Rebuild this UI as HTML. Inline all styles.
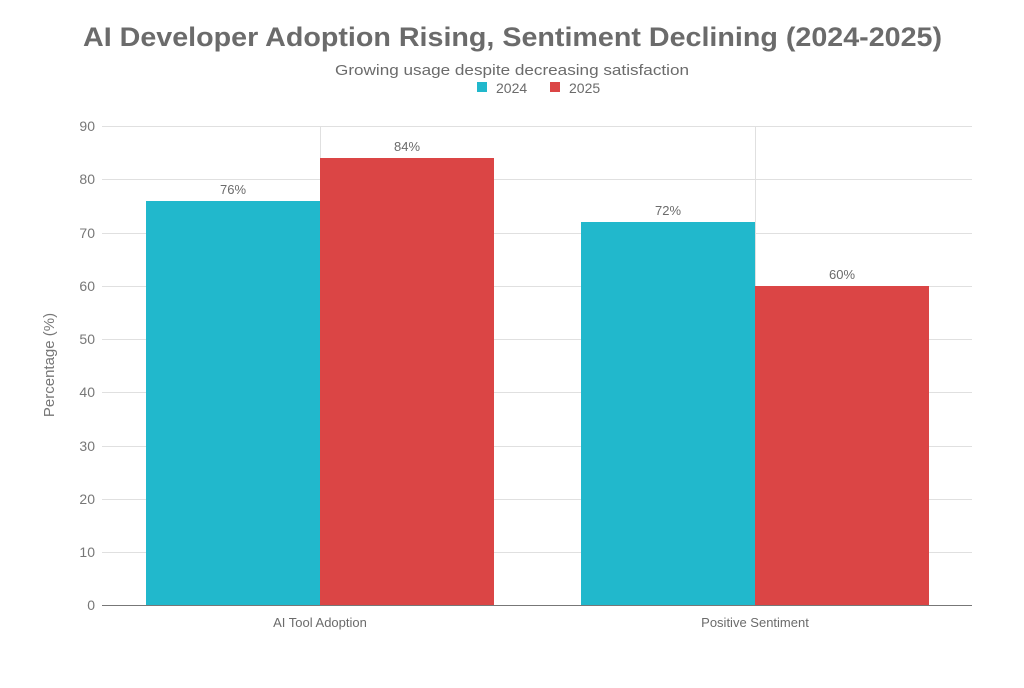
<!DOCTYPE html>
<html><head><meta charset="utf-8"><style>
body{margin:0;background:#fff;}
svg text{font-family:"Liberation Sans",sans-serif;}
</style></head><body>
<svg width="1024" height="683" xmlns="http://www.w3.org/2000/svg">
<rect width="1024" height="683" fill="#fff"/>
<text x="83" y="46" textLength="859" lengthAdjust="spacingAndGlyphs" font-size="27" font-weight="bold" fill="#6b6b6b">AI Developer Adoption Rising, Sentiment Declining (2024-2025)</text>
<text x="335" y="75" textLength="354" lengthAdjust="spacingAndGlyphs" font-size="15" fill="#6b6b6b">Growing usage despite decreasing satisfaction</text>
<rect x="477" y="82" width="10" height="10" fill="#21B8CC"/>
<text x="496" y="93" font-size="14" fill="#6b6b6b">2024</text>
<rect x="550" y="82" width="10" height="10" fill="#DB4545"/>
<text x="569" y="93" font-size="14" fill="#6b6b6b">2025</text>
<g stroke="#e0e0e0" stroke-width="1">
<line x1="102" x2="972" y1="126.5" y2="126.5"/>
<line x1="102" x2="972" y1="179.5" y2="179.5"/>
<line x1="102" x2="972" y1="233.5" y2="233.5"/>
<line x1="102" x2="972" y1="286.5" y2="286.5"/>
<line x1="102" x2="972" y1="339.5" y2="339.5"/>
<line x1="102" x2="972" y1="392.5" y2="392.5"/>
<line x1="102" x2="972" y1="446.5" y2="446.5"/>
<line x1="102" x2="972" y1="499.5" y2="499.5"/>
<line x1="102" x2="972" y1="552.5" y2="552.5"/>
<line x1="320.5" x2="320.5" y1="126" y2="605"/>
<line x1="755.5" x2="755.5" y1="126" y2="605"/>
</g>
<g font-size="14" fill="#777" text-anchor="end">
<text x="95" y="131">90</text><text x="95" y="184">80</text><text x="95" y="238">70</text>
<text x="95" y="291">60</text><text x="95" y="344">50</text><text x="95" y="397">40</text>
<text x="95" y="451">30</text><text x="95" y="504">20</text><text x="95" y="557">10</text>
<text x="95" y="610">0</text>
</g>
<text transform="translate(54,365) rotate(-90)" text-anchor="middle" font-size="15" fill="#777">Percentage (%)</text>
<rect x="146" y="201" width="174" height="404" fill="#21B8CC"/>
<rect x="320" y="158" width="174" height="447" fill="#DB4545"/>
<rect x="581" y="222" width="174" height="383" fill="#21B8CC"/>
<rect x="755" y="286" width="174" height="319" fill="#DB4545"/>
<line x1="102" x2="972" y1="605.5" y2="605.5" stroke="#777" stroke-width="1"/>
<g font-size="13" fill="#6b6b6b" text-anchor="middle">
<text x="233" y="194">76%</text><text x="407" y="151">84%</text>
<text x="668" y="215">72%</text><text x="842" y="279">60%</text>
<text x="320" y="627">AI Tool Adoption</text><text x="755" y="627">Positive Sentiment</text>
</g>
</svg>
</body></html>
